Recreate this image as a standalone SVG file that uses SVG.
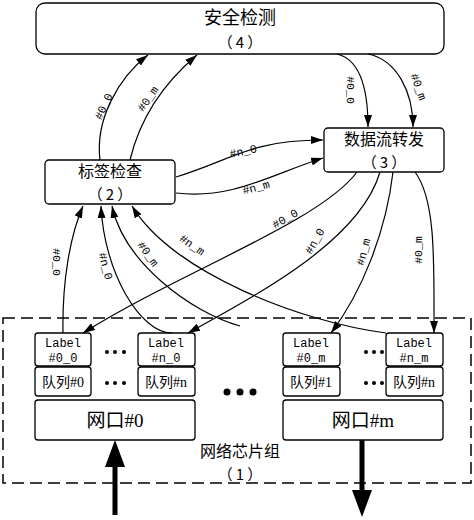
<svg xmlns="http://www.w3.org/2000/svg" width="474" height="520" viewBox="0 0 474 520">
<defs>
<style>
.box{fill:#fff;stroke:#000;stroke-width:1.3}
.t{font-family:"Liberation Serif","Noto Sans CJK SC",serif;text-anchor:middle;fill:#000}
.p{font-family:"Noto Sans CJK SC",sans-serif;text-anchor:middle;fill:#000;font-size:15px;letter-spacing:3px}
.big{font-size:18px}
.mid{font-size:16px}
.sm{font-size:14px}
.lb{font-family:"Liberation Mono","Noto Sans CJK SC",monospace;font-size:12px;text-anchor:middle}
.el{font-family:"Liberation Mono","Noto Sans CJK SC",monospace;font-size:11.5px;text-anchor:middle}
.c{fill:none;stroke:#000;stroke-width:1.2;marker-end:url(#ah)}
</style>
<marker id="ah" markerUnits="userSpaceOnUse" markerWidth="12" markerHeight="8" refX="12" refY="4" orient="auto">
<path d="M0,0 L12,4 L0,8 z" fill="#000"/>
</marker>
</defs>
<rect width="474" height="520" fill="#fff"/>

<g id="chipset">
<rect x="3" y="318" width="468" height="165" fill="none" stroke="#000" stroke-width="1.5" stroke-dasharray="12,6"/>
<text class="t mid" x="240" y="457">网络芯片组</text>
<text class="p" x="241.5" y="480">（1）</text>
<circle cx="227" cy="392" r="3.5"/><circle cx="240" cy="392" r="3.5"/><circle cx="253" cy="392" r="3.5"/>
</g>

<g id="port0">
<rect class="box" x="35" y="333" width="56" height="33" rx="3"/>
<text class="lb" x="63" y="347">Label</text>
<text class="lb" x="63" y="362">#0_0</text>
<rect class="box" x="35" y="367" width="56" height="29" rx="3"/>
<text class="t sm" x="63" y="387">队列#0</text>
<rect class="box" x="138" y="333" width="57" height="33" rx="3"/>
<text class="lb" x="166" y="347">Label</text>
<text class="lb" x="166" y="362">#n_0</text>
<rect class="box" x="138" y="367" width="57" height="29" rx="3"/>
<text class="t sm" x="166" y="387">队列#n</text>
<circle cx="107" cy="352" r="2"/><circle cx="115" cy="352" r="2"/><circle cx="124" cy="352" r="2"/>
<circle cx="107" cy="383" r="2"/><circle cx="115" cy="383" r="2"/><circle cx="124" cy="383" r="2"/>
<rect class="box" x="35" y="400" width="160" height="40" rx="3"/>
<text class="t" style="font-size:19px" x="115" y="427">网口#0</text>
</g>

<g id="portm">
<rect class="box" x="283" y="333" width="57" height="33" rx="3"/>
<text class="lb" x="311" y="347">Label</text>
<text class="lb" x="311" y="362">#0_m</text>
<rect class="box" x="283" y="367" width="57" height="29" rx="3"/>
<text class="t sm" x="311" y="387">队列#1</text>
<rect class="box" x="386" y="333" width="57" height="33" rx="3"/>
<text class="lb" x="414" y="347">Label</text>
<text class="lb" x="414" y="362">#n_m</text>
<rect class="box" x="386" y="367" width="57" height="29" rx="3"/>
<text class="t sm" x="414" y="387">队列#n</text>
<circle cx="366" cy="352" r="2"/><circle cx="374" cy="352" r="2"/><circle cx="382" cy="352" r="2"/>
<circle cx="366" cy="383" r="2"/><circle cx="374" cy="383" r="2"/><circle cx="382" cy="383" r="2"/>
<rect class="box" x="283" y="400" width="160" height="40" rx="3"/>
<text class="t" style="font-size:19px" x="363" y="427">网口#m</text>
</g>

<g id="security">
<rect class="box" x="36" y="3" width="408" height="51" rx="9"/>
<text class="t big" x="240" y="24">安全检测</text>
<text class="p" x="241.5" y="48">（4）</text>
</g>

<g id="labelcheck">
<rect class="box" x="45" y="160" width="130" height="44" rx="4"/>
<text class="t mid" x="110" y="177">标签检查</text>
<text class="p" x="111.5" y="200">（2）</text>
</g>

<g id="forward">
<rect class="box" x="324" y="128" width="120" height="44" rx="4"/>
<text class="t mid" x="384" y="145">数据流转发</text>
<text class="p" x="385.5" y="168">（3）</text>
</g>

<g id="connectors">
<path class="c" d="M100,160 C95,120 118,78 148,55"/>
<path class="c" d="M130,160 C140,118 165,82 197,55"/>
<path class="c" d="M337,54 C362,60 368,92 368,127"/>
<path class="c" d="M368,54 C397,60 413,92 413,127"/>
<path class="c" d="M176,177 C232,160 250,140 323,140"/>
<path class="c" d="M176,193 C232,200 272,174 323,158"/>
<path class="c" d="M63,333 C62,282 70,236 83,206"/>
<path class="c" d="M172,333 C140,333 104,272 101,206"/>
<path class="c" d="M240,326 C190,312 124,262 112,206"/>
<path class="c" d="M386,333 C300,322 172,272 132,206"/>
<path class="c" d="M357,172 C320,222 180,272 83,333"/>
<path class="c" d="M380,172 C360,240 262,292 188,333"/>
<path class="c" d="M393,172 C386,232 362,292 331,333"/>
<path class="c" d="M415,172 C436,200 434,262 434,333"/>
<polygon points="112.5,515 117.5,515 117.5,467 125,467 115,440 105,467 112.5,467" fill="#000"/>
<polygon points="359.5,440 364.5,440 364.5,490 372,490 362,517 352,490 359.5,490" fill="#000"/>
<text class="el" transform="translate(107,108) rotate(-65)">#0_0</text>
<text class="el" transform="translate(151,101) rotate(-55)">#0_m</text>
<text class="el" transform="translate(347,90) rotate(90)">#0_0</text>
<text class="el" transform="translate(415,88) rotate(70)">#0_m</text>
<text class="el" transform="translate(244,155) rotate(-12)">#n_0</text>
<text class="el" transform="translate(257,191) rotate(-15)">#n_m</text>
<text class="el" transform="translate(53,262) rotate(90)">#0_0</text>
<text class="el" transform="translate(102,267) rotate(75)">#n_0</text>
<text class="el" transform="translate(145,256) rotate(55)">#0_m</text>
<text class="el" transform="translate(190,248) rotate(35)">#n_m</text>
<text class="el" transform="translate(287,222) rotate(-30)">#0_0</text>
<text class="el" transform="translate(318,243) rotate(-60)">#n_0</text>
<text class="el" transform="translate(367,253) rotate(-75)">#n_m</text>
<text class="el" transform="translate(422,250) rotate(-90)">#0_m</text>
</g>
</svg>
